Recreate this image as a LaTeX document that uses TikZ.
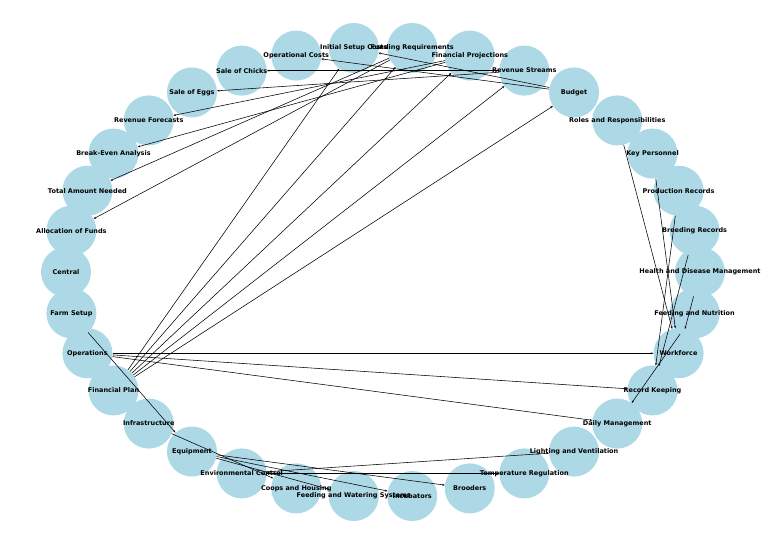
\documentclass[tikz,border=0pt]{standalone}
\usepackage{fontspec}
\setmainfont{DejaVu Sans}
\usetikzlibrary{arrows.meta}
\begin{document}
\begin{tikzpicture}[x=1pt,y=1pt,
  nd/.style={circle,fill=lightblue,minimum size=50pt,inner sep=0pt},
  lb/.style={font=\bfseries\fontsize{6.5}{7}\selectfont},
  ed/.style={draw=black,line width=0.55pt,-{Stealth[length=2.5pt,width=2pt]}}]
\definecolor{lightblue}{RGB}{173,216,230}
\useasboundingbox (0,0) rectangle (768,-545);
\foreach \n/\i in {hdm/0, br/1, pr/2, kp/3, rr/4, bud/5, rs/6, fp/7, fr/8, isc/9, oc/10, soc/11, soe/12, rf/13, bea/14, tan/15, aof/16, cen/17, fs/18, ops/19, fpl/20, inf/21, eq/22, ec/23, ch/24, fws/25, inc/26, bro/27, tr/28, lv/29, dm/30, rk/31, wf/32, fn/33}{
  \node[nd] (\n) at ({383+317*cos(\i*360/34)},{-272+225*sin(\i*360/34)}) {};
}
\foreach \a/\b in {fpl/isc,fpl/fr,fpl/fp,fpl/rs,fpl/bud,fr/tan,fr/aof,fp/rf,fp/bea,rs/soe,rs/soc,bud/oc,bud/isc,ops/wf,ops/rk,ops/dm,fs/eq,rr/wf,kp/wf,pr/rk,br/rk,hdm/wf,fn/dm,eq/inc,eq/bro,eq/fws,ec/lv,ec/tr,inf/ch}{
  \draw[ed] (\a) -- (\b);
}
\foreach \n/\t in {hdm/Health and Disease Management, br/Breeding Records, pr/Production Records, kp/Key Personnel, rr/Roles and Responsibilities, bud/Budget, rs/Revenue Streams, fp/Financial Projections, fr/Funding Requirements, isc/Initial Setup Costs, oc/Operational Costs, soc/Sale of Chicks, soe/Sale of Eggs, rf/Revenue Forecasts, bea/Break-Even Analysis, tan/Total Amount Needed, aof/Allocation of Funds, cen/Central, fs/Farm Setup, ops/Operations, fpl/Financial Plan, inf/Infrastructure, eq/Equipment, ec/Environmental Control, ch/Coops and Housing, fws/Feeding and Watering Systems, inc/Incubators, bro/Brooders, tr/Temperature Regulation, lv/Lighting and Ventilation, dm/Daily Management, rk/Record Keeping, wf/Workforce, fn/Feeding and Nutrition}{
  \node[lb] (\n-l) at (\n) {\t};
}
\end{tikzpicture}
\end{document}
